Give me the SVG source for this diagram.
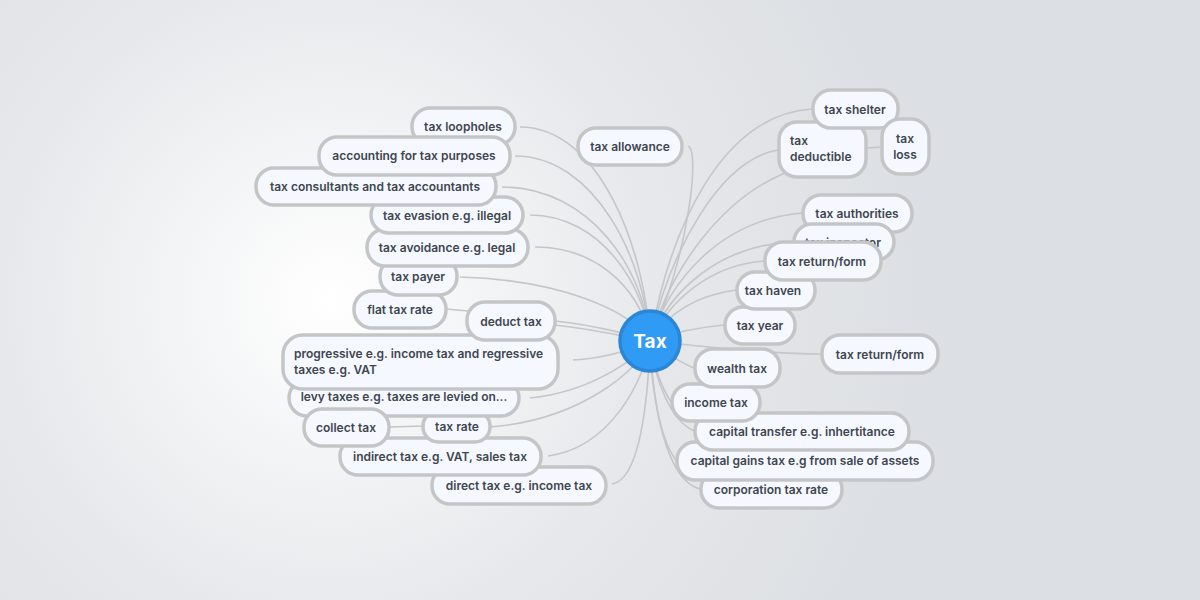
<svg xmlns="http://www.w3.org/2000/svg" width="1200" height="600" viewBox="0 0 1200 600">
<defs>
<radialGradient id="bg" cx="330" cy="300" r="600" gradientUnits="userSpaceOnUse">
<stop offset="0" stop-color="#ffffff"/><stop offset="0.55" stop-color="#e6e8eb"/><stop offset="1" stop-color="#dcdfe3"/>
</radialGradient>
<style>
.n rect{fill:#f5f9ff;stroke:#c3c5c7;stroke-width:3.5}
.n text{font-family:Inter,"Noto Sans",sans-serif;font-size:12px;font-weight:600;fill:#3f4650}
.c path{fill:none;stroke:#c4c6c8;stroke-width:1.6}
.m{text-anchor:middle}
</style>
</defs>
<rect width="1200" height="600" fill="url(#bg)"/>
<g class="c">
<path d="M520,127 C600,127 645,250 650,341"/>
<path d="M515,156 C595,156 645,260 650,341"/>
<path d="M502,187 C590,187 645,270 650,341"/>
<path d="M530,215 C600,215 645,285 650,341"/>
<path d="M535,247 C605,247 645,300 650,341"/>
<path d="M460,277 C560,280 630,310 650,341"/>
<path d="M446,309 L468,311"/>
<path d="M555,321 C600,326 630,335 650,341"/>
<path d="M555,325 C600,330 630,338 650,341"/>
<path d="M573,360 C610,358 635,348 650,341"/>
<path d="M530,398 C590,392 635,360 650,341"/>
<path d="M490,427 C580,420 640,370 650,341"/>
<path d="M389,427 L424,426"/>
<path d="M548,456 C610,448 645,380 650,341"/>
<path d="M612,484 C640,480 648,400 650,341"/>
<path d="M688,146 C700,150 690,250 650,341"/>
<path d="M812,109 C720,115 670,230 650,341"/>
<path d="M778,150 C720,160 670,250 650,341"/>
<path d="M785,173 C720,200 670,270 650,341"/>
<path d="M866,148 L882,147"/>
<path d="M802,213 C720,220 670,280 650,341"/>
<path d="M793,242 C720,245 670,290 650,341"/>
<path d="M764,261 C710,265 670,300 650,341"/>
<path d="M736,290 C700,295 670,310 650,341"/>
<path d="M724,325 C700,327 670,333 650,341"/>
<path d="M821,354 C760,354 690,345 650,341"/>
<path d="M694,368 C680,362 660,350 650,341"/>
<path d="M671,402 C660,385 652,360 650,341"/>
<path d="M694,431 C670,420 655,380 650,341"/>
<path d="M676,460 C660,440 652,390 650,341"/>
<path d="M700,489 C665,480 652,400 650,341"/>
</g>
<g id="n-direct" class="n"><rect x="432" y="467" width="174" height="37" rx="18"/><text class="m" x="519" y="490">direct tax e.g. income tax</text></g>
<g id="n-indirect" class="n"><rect x="340" y="438" width="201" height="37" rx="18"/><text class="m" x="440" y="461">indirect tax e.g. VAT, sales tax</text></g>
<g id="n-taxrate" class="n"><rect x="423" y="411" width="67" height="31" rx="15"/><text class="m" x="457" y="431">tax rate</text></g>
<g id="n-levy" class="n"><rect x="289" y="380" width="230" height="36" rx="18"/><text class="m" x="404" y="401">levy taxes e.g. taxes are levied on...</text></g>
<g id="n-collect" class="n"><rect x="304" y="409" width="85" height="37" rx="18"/><text class="m" x="346" y="432">collect tax</text></g>
<g id="n-prog" class="n"><rect x="283" y="335" width="275" height="54" rx="20"/><text x="294" y="358">progressive e.g. income tax and regressive</text><text x="294" y="374">taxes e.g. VAT</text></g>
<g id="n-flat" class="n"><rect x="354" y="291" width="92" height="37" rx="18"/><text class="m" x="400" y="314">flat tax rate</text></g>
<g id="n-deduct" class="n"><rect x="467" y="302" width="88" height="38" rx="18"/><text class="m" x="511" y="326">deduct tax</text></g>
<g id="n-payer" class="n"><rect x="380" y="258" width="77" height="37" rx="18"/><text class="m" x="418" y="281">tax payer</text></g>
<g id="n-avoid" class="n"><rect x="367" y="229" width="161" height="37" rx="18"/><text class="m" x="447" y="252">tax avoidance e.g. legal</text></g>
<g id="n-evasion" class="n"><rect x="371" y="197" width="152" height="36" rx="18"/><text class="m" x="447" y="220">tax evasion e.g. illegal</text></g>
<g id="n-consult" class="n"><rect x="256" y="168" width="240" height="37" rx="18"/><text class="m" x="375" y="191">tax consultants and tax accountants</text></g>
<g id="n-loop" class="n"><rect x="412" y="108" width="103" height="37" rx="18"/><text class="m" x="463" y="131">tax loopholes</text></g>
<g id="n-account" class="n"><rect x="319" y="137" width="191" height="38" rx="18"/><text class="m" x="414" y="160">accounting for tax purposes</text></g>
<g id="n-allow" class="n"><rect x="578" y="128" width="104" height="37" rx="18"/><text class="m" x="630" y="151">tax allowance</text></g>
<g id="n-deductible" class="n"><rect x="779" y="122" width="87" height="55" rx="18"/><text x="790" y="145">tax</text><text x="790" y="161">deductible</text></g>
<g id="n-shelter" class="n"><rect x="813" y="90" width="85" height="38" rx="18"/><text class="m" x="855" y="114">tax shelter</text></g>
<g id="n-loss" class="n"><rect x="882" y="119" width="47" height="55" rx="18"/><text class="m" x="905" y="143">tax</text><text class="m" x="905" y="159">loss</text></g>
<g id="n-corp" class="n"><rect x="701" y="471" width="141" height="37" rx="18"/><text class="m" x="771" y="494">corporation tax rate</text></g>
<g id="n-gains" class="n"><rect x="677" y="442" width="256" height="38" rx="18"/><text class="m" x="805" y="465">capital gains tax e.g from sale of assets</text></g>
<g id="n-transfer" class="n"><rect x="695" y="413" width="214" height="37" rx="18"/><text class="m" x="802" y="436">capital transfer e.g. inhertitance</text></g>
<g id="n-income" class="n"><rect x="672" y="384" width="88" height="37" rx="18"/><text class="m" x="716" y="407">income tax</text></g>
<g id="n-wealth" class="n"><rect x="695" y="349" width="85" height="38" rx="18"/><text class="m" x="737" y="373">wealth tax</text></g>
<g id="n-return2" class="n"><rect x="822" y="335" width="116" height="38" rx="18"/><text class="m" x="880" y="359">tax return/form</text></g>
<g id="n-year" class="n"><rect x="725" y="307" width="70" height="37" rx="18"/><text class="m" x="760" y="330">tax year</text></g>
<g id="n-haven" class="n"><rect x="737" y="272" width="78" height="37" rx="18"/><text class="m" x="773" y="295">tax haven</text></g>
<g id="n-auth" class="n"><rect x="803" y="195" width="109" height="37" rx="18"/><text class="m" x="857" y="218">tax authorities</text></g>
<g id="n-inspect" class="n"><rect x="794" y="224" width="100" height="36" rx="18"/><text class="m" x="843" y="247">tax inspector</text></g>
<g id="n-return1" class="n"><rect x="765" y="242" width="116" height="38" rx="18"/><text class="m" x="822" y="266">tax return/form</text></g>
<g id="n-tax"><circle cx="650" cy="341" r="30" fill="#2f9bf5" stroke="#2b86d6" stroke-width="3.5"/><text x="650" y="348" text-anchor="middle" font-family="Inter,'Noto Sans',sans-serif" font-size="19" font-weight="700" fill="#ffffff">Tax</text></g>
</svg>
